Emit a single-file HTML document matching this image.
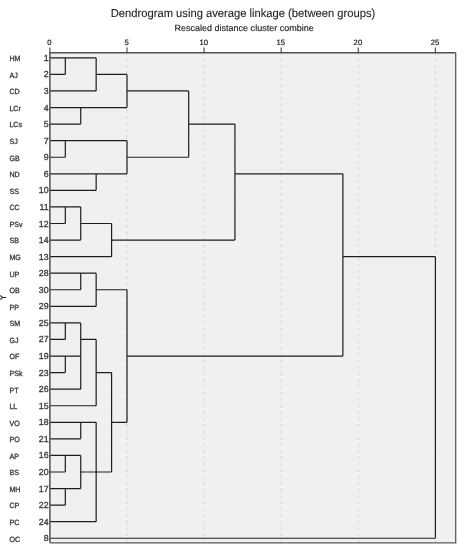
<!DOCTYPE html>
<html><head><meta charset="utf-8"><style>
html,body{margin:0;padding:0;background:#fff;}
body{width:467px;height:550px;overflow:hidden;}
svg{display:block;font-family:"Liberation Sans",Arial,sans-serif;fill:#222;}
svg text{fill:#1e1e1e;stroke:#1e1e1e;text-rendering:geometricPrecision;}
svg .lab text{fill:#383838;stroke:#383838;}
</style></head><body>
<svg width="467" height="550" viewBox="0 0 467 550">
<defs><filter id="soft" x="-20%" y="-20%" width="140%" height="140%"><feGaussianBlur stdDeviation="0.3"/></filter></defs>
<rect x="49.9" y="52.8" width="405.8" height="490.05" fill="#f0f0f0"/>
<line x1="127.00" y1="51.8" x2="127.00" y2="542.85" stroke="#d4d4d4" stroke-width="1" stroke-dasharray="2.8 3.62"/>
<line x1="204.10" y1="51.8" x2="204.10" y2="542.85" stroke="#d4d4d4" stroke-width="1" stroke-dasharray="2.8 3.62"/>
<line x1="281.20" y1="51.8" x2="281.20" y2="542.85" stroke="#d4d4d4" stroke-width="1" stroke-dasharray="2.8 3.62"/>
<line x1="358.30" y1="51.8" x2="358.30" y2="542.85" stroke="#d4d4d4" stroke-width="1" stroke-dasharray="2.8 3.62"/>
<line x1="435.40" y1="51.8" x2="435.40" y2="542.85" stroke="#d4d4d4" stroke-width="1" stroke-dasharray="2.8 3.62"/>
<path d="M49.9 542.85 H455.7 V52.8" fill="none" stroke="#5a5a5a" stroke-width="1.3"/>
<path d="M49.90 57.84L65.32 57.84M49.90 74.41L65.32 74.41M65.32 57.84L65.32 74.41M65.32 57.84L96.16 57.84M49.90 90.97L96.16 90.97M96.16 57.84L96.16 90.97M49.90 107.54L80.74 107.54M49.90 124.10L80.74 124.10M80.74 107.54L80.74 124.10M96.16 74.41L127.00 74.41M80.74 107.54L127.00 107.54M127.00 74.41L127.00 107.54M49.90 140.67L65.32 140.67M49.90 157.24L65.32 157.24M65.32 140.67L65.32 157.24M49.90 173.80L96.16 173.80M49.90 190.37L96.16 190.37M96.16 173.80L96.16 190.37M65.32 140.67L127.00 140.67M96.16 173.80L127.00 173.80M127.00 140.67L127.00 173.80M127.00 90.97L188.68 90.97M127.00 157.24L188.68 157.24M188.68 90.97L188.68 157.24M49.90 206.93L65.32 206.93M49.90 223.50L65.32 223.50M65.32 206.93L65.32 223.50M65.32 206.93L80.74 206.93M49.90 240.07L80.74 240.07M80.74 206.93L80.74 240.07M80.74 223.50L111.58 223.50M49.90 256.63L111.58 256.63M111.58 223.50L111.58 256.63M188.68 124.10L234.94 124.10M111.58 240.07L234.94 240.07M234.94 124.10L234.94 240.07M49.90 273.20L80.74 273.20M49.90 289.76L80.74 289.76M80.74 273.20L80.74 289.76M80.74 273.20L96.16 273.20M49.90 306.33L96.16 306.33M96.16 273.20L96.16 306.33M49.90 322.90L65.32 322.90M49.90 339.46L65.32 339.46M65.32 322.90L65.32 339.46M49.90 356.03L65.32 356.03M49.90 372.59L65.32 372.59M65.32 356.03L65.32 372.59M65.32 356.03L80.74 356.03M49.90 389.16L80.74 389.16M80.74 356.03L80.74 389.16M65.32 322.90L80.74 322.90M80.74 322.90L80.74 372.59M80.74 339.46L96.16 339.46M49.90 405.73L96.16 405.73M96.16 339.46L96.16 405.73M49.90 422.29L80.74 422.29M49.90 438.86L80.74 438.86M80.74 422.29L80.74 438.86M49.90 455.42L65.32 455.42M49.90 471.99L65.32 471.99M65.32 455.42L65.32 471.99M49.90 488.56L65.32 488.56M49.90 505.12L65.32 505.12M65.32 488.56L65.32 505.12M65.32 455.42L80.74 455.42M65.32 488.56L80.74 488.56M80.74 455.42L80.74 488.56M80.74 422.29L96.16 422.29M80.74 471.99L96.16 471.99M96.16 422.29L96.16 471.99M49.90 521.69L96.16 521.69M96.16 438.86L96.16 521.69M96.16 372.59L111.58 372.59M96.16 471.99L111.58 471.99M111.58 372.59L111.58 471.99M96.16 289.76L127.00 289.76M111.58 422.29L127.00 422.29M127.00 289.76L127.00 422.29M234.94 173.80L342.88 173.80M127.00 356.03L342.88 356.03M342.88 173.80L342.88 356.03M342.88 256.63L435.40 256.63M49.90 538.25L435.40 538.25M435.40 256.63L435.40 538.25" fill="none" stroke="#1e1e1e" stroke-width="1.2"/>
<path d="M49.9 542.85 V52.8 H455.7" fill="none" stroke="#505050" stroke-width="1.5"/>
<line x1="49.90" y1="47.5" x2="49.90" y2="52.8" stroke="#505050" stroke-width="1.2"/>
<text transform="translate(49.50 44.6) scale(1 1)" font-size="7.7" stroke-width="0.2" text-anchor="middle">0</text>
<line x1="127.00" y1="47.5" x2="127.00" y2="52.8" stroke="#505050" stroke-width="1.2"/>
<text transform="translate(126.60 44.6) scale(1 1)" font-size="7.7" stroke-width="0.2" text-anchor="middle">5</text>
<line x1="204.10" y1="47.5" x2="204.10" y2="52.8" stroke="#505050" stroke-width="1.2"/>
<text transform="translate(203.70 44.6) scale(1 1)" font-size="7.7" stroke-width="0.2" text-anchor="middle">10</text>
<line x1="281.20" y1="47.5" x2="281.20" y2="52.8" stroke="#505050" stroke-width="1.2"/>
<text transform="translate(280.80 44.6) scale(1 1)" font-size="7.7" stroke-width="0.2" text-anchor="middle">15</text>
<line x1="358.30" y1="47.5" x2="358.30" y2="52.8" stroke="#505050" stroke-width="1.2"/>
<text transform="translate(357.90 44.6) scale(1 1)" font-size="7.7" stroke-width="0.2" text-anchor="middle">20</text>
<line x1="435.40" y1="47.5" x2="435.40" y2="52.8" stroke="#505050" stroke-width="1.2"/>
<text transform="translate(435.00 44.6) scale(1 1)" font-size="7.7" stroke-width="0.2" text-anchor="middle">25</text>
<g class="lab" filter="url(#soft)">
<text transform="translate(9.4 61.19) scale(0.95 1)" font-size="7.5" stroke-width="0.3">HM</text>
<text transform="translate(48.6 60.84) scale(1 1)" font-size="8.8" stroke-width="0.3" text-anchor="end">1</text>
<text transform="translate(9.4 77.76) scale(0.95 1)" font-size="7.5" stroke-width="0.3">AJ</text>
<text transform="translate(48.6 77.41) scale(1 1)" font-size="8.8" stroke-width="0.3" text-anchor="end">2</text>
<text transform="translate(9.4 94.32) scale(0.95 1)" font-size="7.5" stroke-width="0.3">CD</text>
<text transform="translate(48.6 93.97) scale(1 1)" font-size="8.8" stroke-width="0.3" text-anchor="end">3</text>
<text transform="translate(9.4 110.89) scale(0.95 1)" font-size="7.5" stroke-width="0.3">LCr</text>
<text transform="translate(48.6 110.54) scale(1 1)" font-size="8.8" stroke-width="0.3" text-anchor="end">4</text>
<text transform="translate(9.4 127.45) scale(0.95 1)" font-size="7.5" stroke-width="0.3">LCs</text>
<text transform="translate(48.6 127.10) scale(1 1)" font-size="8.8" stroke-width="0.3" text-anchor="end">5</text>
<text transform="translate(9.4 144.02) scale(0.95 1)" font-size="7.5" stroke-width="0.3">SJ</text>
<text transform="translate(48.6 143.67) scale(1 1)" font-size="8.8" stroke-width="0.3" text-anchor="end">7</text>
<text transform="translate(9.4 160.59) scale(0.95 1)" font-size="7.5" stroke-width="0.3">GB</text>
<text transform="translate(48.6 160.24) scale(1 1)" font-size="8.8" stroke-width="0.3" text-anchor="end">9</text>
<text transform="translate(9.4 177.15) scale(0.95 1)" font-size="7.5" stroke-width="0.3">ND</text>
<text transform="translate(48.6 176.80) scale(1 1)" font-size="8.8" stroke-width="0.3" text-anchor="end">6</text>
<text transform="translate(9.4 193.72) scale(0.95 1)" font-size="7.5" stroke-width="0.3">SS</text>
<text transform="translate(48.6 193.37) scale(1 1)" font-size="8.8" stroke-width="0.3" text-anchor="end">10</text>
<text transform="translate(9.4 210.28) scale(0.95 1)" font-size="7.5" stroke-width="0.3">CC</text>
<text transform="translate(48.6 209.93) scale(1 1)" font-size="8.8" stroke-width="0.3" text-anchor="end">11</text>
<text transform="translate(9.4 226.85) scale(0.95 1)" font-size="7.5" stroke-width="0.3">PSv</text>
<text transform="translate(48.6 226.50) scale(1 1)" font-size="8.8" stroke-width="0.3" text-anchor="end">12</text>
<text transform="translate(9.4 243.42) scale(0.95 1)" font-size="7.5" stroke-width="0.3">SB</text>
<text transform="translate(48.6 243.07) scale(1 1)" font-size="8.8" stroke-width="0.3" text-anchor="end">14</text>
<text transform="translate(9.4 259.98) scale(0.95 1)" font-size="7.5" stroke-width="0.3">MG</text>
<text transform="translate(48.6 259.63) scale(1 1)" font-size="8.8" stroke-width="0.3" text-anchor="end">13</text>
<text transform="translate(9.4 276.55) scale(0.95 1)" font-size="7.5" stroke-width="0.3">UP</text>
<text transform="translate(48.6 276.20) scale(1 1)" font-size="8.8" stroke-width="0.3" text-anchor="end">28</text>
<text transform="translate(9.4 293.11) scale(0.95 1)" font-size="7.5" stroke-width="0.3">OB</text>
<text transform="translate(48.6 292.76) scale(1 1)" font-size="8.8" stroke-width="0.3" text-anchor="end">30</text>
<text transform="translate(9.4 309.68) scale(0.95 1)" font-size="7.5" stroke-width="0.3">PP</text>
<text transform="translate(48.6 309.33) scale(1 1)" font-size="8.8" stroke-width="0.3" text-anchor="end">29</text>
<text transform="translate(9.4 326.25) scale(0.95 1)" font-size="7.5" stroke-width="0.3">SM</text>
<text transform="translate(48.6 325.90) scale(1 1)" font-size="8.8" stroke-width="0.3" text-anchor="end">25</text>
<text transform="translate(9.4 342.81) scale(0.95 1)" font-size="7.5" stroke-width="0.3">GJ</text>
<text transform="translate(48.6 342.46) scale(1 1)" font-size="8.8" stroke-width="0.3" text-anchor="end">27</text>
<text transform="translate(9.4 359.38) scale(0.95 1)" font-size="7.5" stroke-width="0.3">OF</text>
<text transform="translate(48.6 359.03) scale(1 1)" font-size="8.8" stroke-width="0.3" text-anchor="end">19</text>
<text transform="translate(9.4 375.94) scale(0.95 1)" font-size="7.5" stroke-width="0.3">PSk</text>
<text transform="translate(48.6 375.59) scale(1 1)" font-size="8.8" stroke-width="0.3" text-anchor="end">23</text>
<text transform="translate(9.4 392.51) scale(0.95 1)" font-size="7.5" stroke-width="0.3">PT</text>
<text transform="translate(48.6 392.16) scale(1 1)" font-size="8.8" stroke-width="0.3" text-anchor="end">26</text>
<text transform="translate(9.4 409.08) scale(0.95 1)" font-size="7.5" stroke-width="0.3">LL</text>
<text transform="translate(48.6 408.73) scale(1 1)" font-size="8.8" stroke-width="0.3" text-anchor="end">15</text>
<text transform="translate(9.4 425.64) scale(0.95 1)" font-size="7.5" stroke-width="0.3">VO</text>
<text transform="translate(48.6 425.29) scale(1 1)" font-size="8.8" stroke-width="0.3" text-anchor="end">18</text>
<text transform="translate(9.4 442.21) scale(0.95 1)" font-size="7.5" stroke-width="0.3">PO</text>
<text transform="translate(48.6 441.86) scale(1 1)" font-size="8.8" stroke-width="0.3" text-anchor="end">21</text>
<text transform="translate(9.4 458.77) scale(0.95 1)" font-size="7.5" stroke-width="0.3">AP</text>
<text transform="translate(48.6 458.42) scale(1 1)" font-size="8.8" stroke-width="0.3" text-anchor="end">16</text>
<text transform="translate(9.4 475.34) scale(0.95 1)" font-size="7.5" stroke-width="0.3">BS</text>
<text transform="translate(48.6 474.99) scale(1 1)" font-size="8.8" stroke-width="0.3" text-anchor="end">20</text>
<text transform="translate(9.4 491.91) scale(0.95 1)" font-size="7.5" stroke-width="0.3">MH</text>
<text transform="translate(48.6 491.56) scale(1 1)" font-size="8.8" stroke-width="0.3" text-anchor="end">17</text>
<text transform="translate(9.4 508.47) scale(0.95 1)" font-size="7.5" stroke-width="0.3">CP</text>
<text transform="translate(48.6 508.12) scale(1 1)" font-size="8.8" stroke-width="0.3" text-anchor="end">22</text>
<text transform="translate(9.4 525.04) scale(0.95 1)" font-size="7.5" stroke-width="0.3">PC</text>
<text transform="translate(48.6 524.69) scale(1 1)" font-size="8.8" stroke-width="0.3" text-anchor="end">24</text>
<text transform="translate(9.4 541.60) scale(0.95 1)" font-size="7.5" stroke-width="0.3">OC</text>
<text transform="translate(48.6 541.25) scale(1 1)" font-size="8.8" stroke-width="0.3" text-anchor="end">8</text>
</g>
<text transform="translate(243 16.9) scale(0.9655 1)" font-size="11.6" stroke-width="0.1" text-anchor="middle">Dendrogram using average linkage (between groups)</text>
<text transform="translate(244.1 31.1) scale(1 1)" font-size="9.02" stroke-width="0.15" text-anchor="middle">Rescaled distance cluster combine</text>
<text transform="translate(5.8 297.6) rotate(-90)" font-size="10.5" stroke-width="0.2" text-anchor="middle">Y</text>
</svg>
</body></html>
